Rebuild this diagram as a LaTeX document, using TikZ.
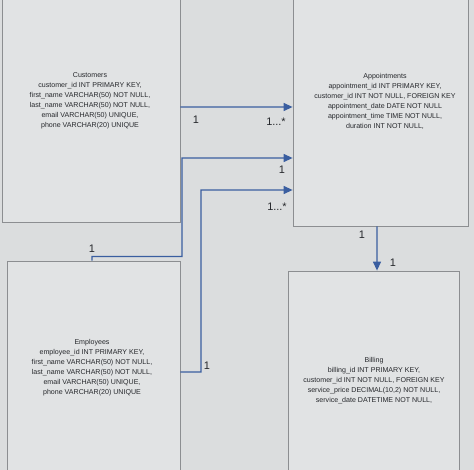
\documentclass[tikz,border=0pt]{standalone}
\usepackage{fontspec}
\setmainfont{Liberation Sans}
\usetikzlibrary{arrows.meta}
\usetikzlibrary{positioning}
\definecolor{wallgray}{RGB}{219,221,222}
\definecolor{boxfill}{RGB}{225,227,228}
\definecolor{boxgray}{RGB}{140,142,145}
\definecolor{inkgray}{RGB}{38,40,44}
\definecolor{linkblue}{RGB}{58,94,160}
\begin{document}
\begin{tikzpicture}[x=1bp, y=-1bp]
 \tikzstyle{table}=[rectangle, draw=boxgray, fill=boxfill, line width=0.8bp, inner sep=0pt]
 \tikzstyle{fields}=[align=center, inner sep=0pt, text=inkgray, font=\fontsize{7.1}{10}\selectfont]
 \tikzstyle{card}=[inner sep=0pt, text=inkgray, font=\fontsize{11}{12}\selectfont]
 \tikzstyle{line}=[draw=linkblue, line width=1.3bp, -{Triangle[length=9bp, width=8bp]}]

 \useasboundingbox (0,0) rectangle (474,470);
 \clip (0,0) rectangle (474,470);
 \fill[wallgray] (0,0) rectangle (474,470);

 % tables
 \draw (91,101) node[table, minimum width=178bp, minimum height=242bp] (cust) {};
 \draw (380.5,103) node[table, minimum width=175bp, minimum height=246bp] (appt) {};
 \draw (93.5,375.5) node[table, minimum width=173bp, minimum height=229bp] (emp) {};
 \draw (373.5,380.5) node[table, minimum width=171bp, minimum height=219bp] (bill) {};

 \draw (90,101) node[fields] (custtext) {Customers\\customer\_id INT PRIMARY KEY,\\first\_name VARCHAR(50) NOT NULL,\\last\_name VARCHAR(50) NOT NULL,\\email VARCHAR(50) UNIQUE,\\phone VARCHAR(20) UNIQUE};
 \draw (385,101) node[fields] (appttext) {Appointments\\appointment\_id INT PRIMARY KEY,\\customer\_id INT NOT NULL, FOREIGN KEY\\appointment\_date DATE NOT NULL\\appointment\_time TIME NOT NULL,\\duration INT NOT NULL,};
 \draw (92,368) node[fields] (emptext) {Employees\\employee\_id INT PRIMARY KEY,\\first\_name VARCHAR(50) NOT NULL,\\last\_name VARCHAR(50) NOT NULL,\\email VARCHAR(50) UNIQUE,\\phone VARCHAR(20) UNIQUE};
 \draw (374,381) node[fields] (billtext) {Billing\\billing\_id INT PRIMARY KEY,\\customer\_id INT NOT NULL, FOREIGN KEY\\service\_price DECIMAL(10,2) NOT NULL,\\service\_date DATETIME NOT NULL,};

 % relations
 \path [line] ([yshift=-6bp]cust.east) -- ([yshift=-4bp]appt.west);
 \path [line] ([xshift=-1.5bp]emp.north) -- ++(0,-4) -| (182,158) -- ([yshift=-55bp]appt.west);
 \path [line] ([yshift=3.5bp]emp.east) -| (201,190) -- ([yshift=-87bp]appt.west);
 \path [line] ([xshift=-3.5bp]appt.south) -- ([xshift=3.5bp]bill.north);

 % cardinalities
 \draw (196,120) node[card] (c1) {1};
 \draw (276,122) node[card] (c2) {1...*};
 \draw (92,249) node[card] (c3) {1};
 \draw (282,170) node[card] (c4) {1};
 \draw (207,366) node[card] (c5) {1};
 \draw (277,207) node[card] (c6) {1...*};
 \draw (362,235) node[card] (c7) {1};
 \draw (393,263) node[card] (c8) {1};
\end{tikzpicture}
\end{document}
